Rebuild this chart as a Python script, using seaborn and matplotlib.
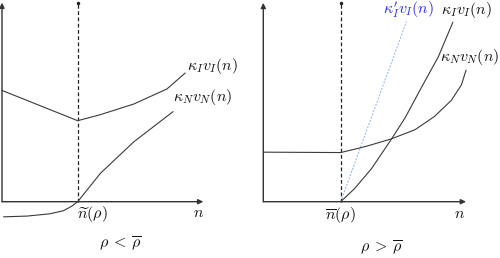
import numpy as np
import pandas as pd
import matplotlib
matplotlib.use("Agg")
import matplotlib.pyplot as plt
import seaborn as sns

sns.set_theme(style="white")
plt.rcParams["mathtext.fontset"] = "cm"
plt.rcParams["font.family"] = ["DejaVu Serif"]

# ---- Left panel (rho < rho_bar), n scaled so that n_tilde = 1 ----
left_kI_n = [0.0, 1.0, 1.30, 1.74, 2.18, 2.42]
left_kI_v = [1.47, 1.07, 1.15, 1.29, 1.49, 1.70]
left_kN_n = [0.02, 0.33, 0.63, 0.81, 0.92, 1.0, 1.12, 1.30, 1.74, 2.26]
left_kN_v = [-0.20, -0.19, -0.16, -0.12, -0.06, 0.0, 0.15, 0.375, 0.79, 1.19]

# ---- Right panel (rho > rho_bar), n scaled so that n_bar = 1 ----
right_kN_n = [0.0, 1.0, 1.31, 1.65, 1.96, 2.21, 2.43, 2.56, 2.62]
right_kN_v = [0.64, 0.635, 0.71, 0.81, 0.93, 1.10, 1.31, 1.51, 1.70]
right_kI_n = [1.0, 1.18, 1.40, 1.65, 1.83, 2.04, 2.26, 2.45]
right_kI_v = [0.0, 0.17, 0.43, 0.80, 1.08, 1.47, 1.87, 2.32]
right_kIp_n = [1.0, 1.85]
right_kIp_v = [0.0, 2.33]

W, H = 500, 258
fig = plt.figure(figsize=(W / 100, H / 100), dpi=100)

line_col = "#3a3a3a"
lw = 0.8


def make_axes(px0, px1, ox, oy, scale):
    ax = fig.add_axes([px0 / W, 0, (px1 - px0) / W, 1])
    ax.set_xlim((px0 - ox) / scale, (px1 - ox) / scale)
    ax.set_ylim((oy - H) / scale, oy / scale)
    ax.axis("off")
    return ax


def draw_axes(ax, xmax, ymax):
    arrow = dict(arrowstyle="-|>,head_length=0.25,head_width=0.12", color="#333333", lw=1.0,
                 shrinkA=0, shrinkB=0)
    ax.annotate("", xy=(xmax, 0), xytext=(0, 0), arrowprops=arrow)
    ax.annotate("", xy=(0, ymax), xytext=(0, 0), arrowprops=arrow)
    ax.plot([1, 1], [0, ymax], ls=(0, (3, 2)), color="#222222", lw=0.9)
    ax.plot([1], [ymax], marker="o", ms=1.5, color="#222222")


def curve(ax, xs, ys, color=line_col, ls="-", lwidth=lw):
    df = pd.DataFrame({"n": xs, "v": ys})
    sns.lineplot(data=df, x="n", y="v", ax=ax, sort=False, estimator=None,
                 color=color, lw=lwidth, linestyle=ls)


# Left
axL = make_axes(0, 250, 2, 201.7, 75.7)
draw_axes(axL, 2.66, 2.63)
curve(axL, left_kI_n, left_kI_v)
curve(axL, left_kN_n, left_kN_v)
fs = 11.5
axL.text(2.44, 1.79, r"$\kappa_I v_I(n)$", fontsize=fs, ha="left", va="center", color="#111111")
axL.text(2.26, 1.38, r"$\kappa_N v_N(n)$", fontsize=fs, ha="left", va="center", color="#111111")
axL.text(0.99, -0.16, r"$\widetilde{n}(\rho)$", fontsize=fs, ha="left", va="center", color="#111111")
axL.text(2.60, -0.14, r"$n$", fontsize=fs, ha="center", va="center", color="#111111")
axL.text(1.56, -0.56, r"$\rho\:<\:\overline{\rho}$", fontsize=fs, ha="center", va="center", color="#111111")

# Right
axR = make_axes(250, 500, 263.3, 201.7, 77.4)
draw_axes(axR, 2.62, 2.57)
curve(axR, right_kIp_n, right_kIp_v, color="#8fb0f0", ls=(0, (2, 1.5)), lwidth=0.7)
curve(axR, right_kN_n, right_kN_v)
curve(axR, right_kI_n, right_kI_v)
axR.text(1.88, 2.48, r"$\kappa_I' v_I(n)$", fontsize=fs, ha="center", va="center", color="#2a2aff")
axR.text(2.63, 2.48, r"$\kappa_I v_I(n)$", fontsize=fs, ha="center", va="center", color="#111111")
axR.text(2.67, 1.87, r"$\kappa_N v_N(n)$", fontsize=fs, ha="center", va="center", color="#111111")
axR.text(1.0, -0.17, r"$\overline{n}(\rho)$", fontsize=fs, ha="center", va="center", color="#111111")
axR.text(2.54, -0.15, r"$n$", fontsize=fs, ha="center", va="center", color="#111111")
axR.text(1.53, -0.60, r"$\rho\:>\:\overline{\rho}$", fontsize=fs, ha="center", va="center", color="#111111")

fig.savefig("out.png", dpi=100, facecolor="white")
